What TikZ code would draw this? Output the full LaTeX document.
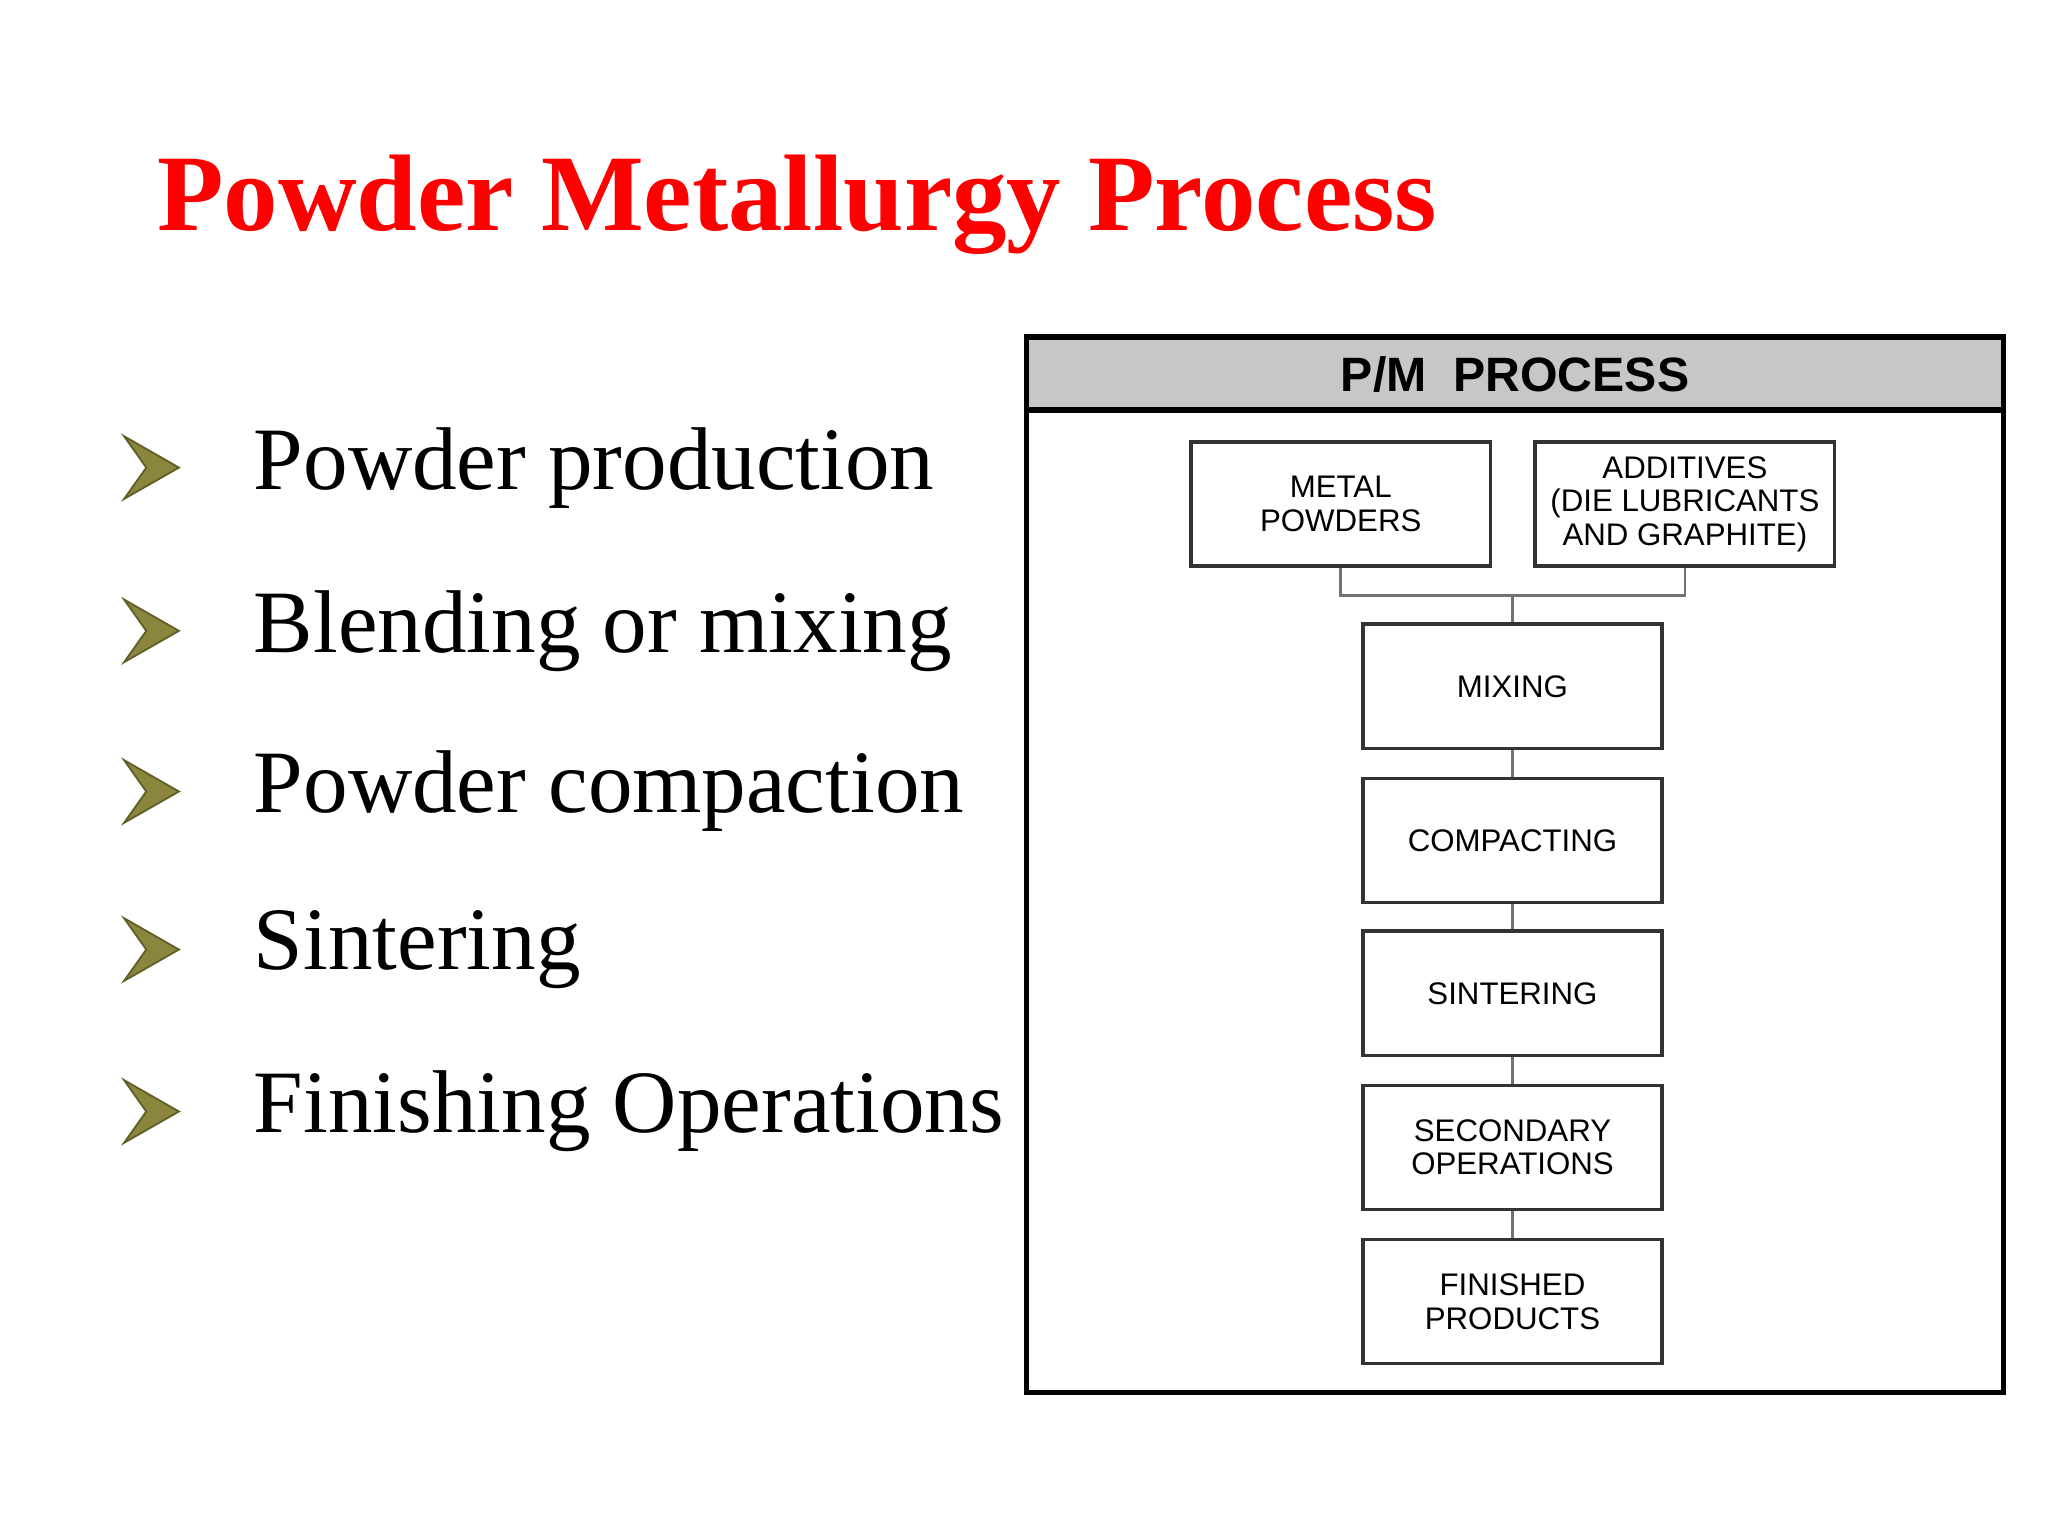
\documentclass[tikz,border=0pt]{standalone}
\usepackage{fontspec}
\setmainfont{Liberation Serif}
\setsansfont{Liberation Sans}
\begin{document}
\begin{tikzpicture}[x=0.01cm,y=-0.01cm,
  box/.style={draw=black!80,line width=0.8pt,minimum width=2.29cm,minimum height=0.95cm,inner sep=0pt,align=center,font=\sffamily\fontsize{6.8}{7.3}\selectfont},
  conn/.style={draw=black!55,line width=0.6pt},
  item/.style={anchor=west,font=\fontsize{19.4}{22}\selectfont},
  bul/.style={fill=olive!70!black!80,draw=olive!60!black,line width=0.4pt}]
\useasboundingbox (0,0) rectangle (1568,1176);
\node[anchor=west,text=red,font=\bfseries\fontsize{23.7}{28}\selectfont] (title) at (108,157) {Powder Metallurgy Process};
% bullets
\foreach \y/\t [count=\i] in {358/Powder production,483/Blending or mixing,606/Powder compaction,727/Sintering,851/Finishing Operations}{
  \fill[bul] (95,\y-24) -- (137,\y) -- (95,\y+24) -- (112,\y) -- cycle;
  \node[item] (it\i) at (182,\y) {\t};
}
% frame
\fill[black!22] (786,258) rectangle (1534,314);
\draw[line width=1.2pt] (786,258) rectangle (1534,1066);
\draw[line width=1.2pt] (786,314) -- (1534,314);
\node[font=\sffamily\bfseries\fontsize{10.5}{12}\selectfont] (hdr) at (1160,287) {P/M\ \ PROCESS};
\node[box] (metal) at (1026.5,386) {METAL\\POWDERS};
\node[box] (add) at (1290,386) {ADDITIVES\\(DIE LUBRICANTS\\AND GRAPHITE)};
\node[box] (mix) at (1158,525.5) {MIXING};
\node[box] (comp) at (1158,643.5) {COMPACTING};
\node[box] (sint) at (1158,760.5) {SINTERING};
\node[box] (sec) at (1158,878.5) {SECONDARY\\OPERATIONS};
\node[box] (fin) at (1158,996.5) {FINISHED\\PRODUCTS};
\coordinate (j) at (1158,456);
\draw[conn] (metal.south) |- (j) -| (add.south);
\draw[conn] (j) -- (mix.north);
\draw[conn] (mix) -- (comp);
\draw[conn] (comp) -- (sint);
\draw[conn] (sint) -- (sec);
\draw[conn] (sec) -- (fin);
\end{tikzpicture}
\end{document}
